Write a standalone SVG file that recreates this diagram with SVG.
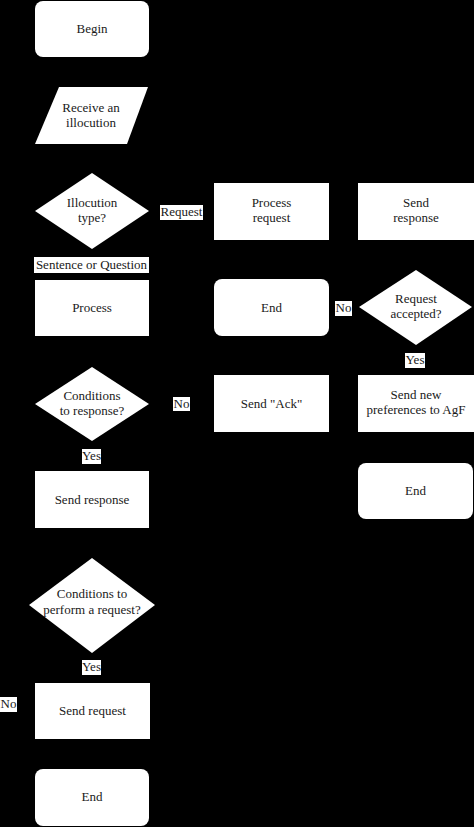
<svg xmlns="http://www.w3.org/2000/svg" width="474" height="827" viewBox="0 0 474 827">
<defs>
<style>
text{font-family:'Liberation Serif','Times New Roman','DejaVu Serif',serif;font-size:13px;fill:#1a1a1a;text-anchor:middle}
.n{fill:#fff;stroke:none}
.lb{fill:#fff}
.c{stroke:#000;stroke-width:1;fill:none;marker-end:url(#ah)}
</style>
<marker id="ah" markerWidth="8" markerHeight="8" refX="7" refY="4" orient="auto"><path d="M0,0 L8,4 L0,8 z" fill="#000"/></marker>
</defs>
<rect x="0" y="0" width="474" height="827" fill="#000"/>
<g id="connectors">
<path class="c" d="M92,57 V87"/>
<path class="c" d="M92,144 V173"/>
<path class="c" d="M92,249 V280"/>
<path class="c" d="M149,211 H214"/>
<path class="c" d="M329,211 H358"/>
<path class="c" d="M416,240 V270"/>
<path class="c" d="M359,307 H329"/>
<path class="c" d="M416,345 V375"/>
<path class="c" d="M416,432 V463"/>
<path class="c" d="M92,336 V367"/>
<path class="c" d="M149,404 H214"/>
<path class="c" d="M92,441 V471"/>
<path class="c" d="M92,528 V558"/>
<path class="c" d="M92,653 V683"/>
<path class="c" d="M92,739 V769"/>
<path class="c" d="M29,605 H8 V797 H35"/>
</g>
<g id="begin"><rect class="n" x="35" y="1" width="114" height="56" rx="8"/><text x="92" y="33" font-family="Liberation Serif, serif">Begin</text></g>
<g id="receive"><polygon class="n" points="59,87 148,87 127,144 35,144"/><text x="91" y="112">Receive an</text><text x="91" y="127">illocution</text></g>
<g id="illocution-type"><polygon class="n" points="92,173 149,211 92,249 35,211"/><text x="92" y="207">Illocution</text><text x="92" y="222">type?</text></g>
<g id="label-request"><rect class="lb" x="160" y="205" width="43" height="15"/><text x="181.5" y="216">Request</text></g>
<g id="label-sentence"><rect class="lb" x="34" y="257" width="115" height="16"/><text x="91.5" y="269">Sentence or Question</text></g>
<g id="process"><rect class="n" x="35" y="280" width="114" height="56"/><text x="92" y="312">Process</text></g>
<g id="process-request"><rect class="n" x="214" y="183" width="115" height="57"/><text x="271.5" y="207">Process</text><text x="271.5" y="222">request</text></g>
<g id="send-response-right"><rect class="n" x="358" y="183" width="116" height="57"/><text x="416" y="207">Send</text><text x="416" y="222">response</text></g>
<g id="end-middle"><rect class="n" x="214" y="279" width="115" height="57" rx="8"/><text x="271.5" y="312">End</text></g>
<g id="label-no-1"><rect class="lb" x="335" y="301" width="17" height="15"/><text x="343.5" y="312">No</text></g>
<g id="request-accepted"><polygon class="n" points="416,270 472,307 416,345 359,307"/><text x="416" y="303">Request</text><text x="416" y="318">accepted?</text></g>
<g id="label-yes-1"><rect class="lb" x="405" y="353" width="20" height="15"/><text x="415" y="364">Yes</text></g>
<g id="send-ack"><rect class="n" x="214" y="375" width="115" height="57"/><text x="271.5" y="408">Send "Ack"</text></g>
<g id="label-no-2"><rect class="lb" x="173" y="397" width="17" height="14"/><text x="181.5" y="408">No</text></g>
<g id="send-new-prefs"><rect class="n" x="358" y="375" width="116" height="57"/><text x="416" y="399">Send new</text><text x="416" y="414">preferences to AgF</text></g>
<g id="end-right"><rect class="n" x="358" y="463" width="115" height="56" rx="8"/><text x="415.5" y="495">End</text></g>
<g id="conditions-response"><polygon class="n" points="92,367 149,404 92,441 35,404"/><text x="92" y="400">Conditions</text><text x="92" y="415">to response?</text></g>
<g id="label-yes-2"><rect class="lb" x="82" y="449" width="19" height="15"/><text x="91.5" y="460">Yes</text></g>
<g id="send-response"><rect class="n" x="35" y="471" width="114" height="57"/><text x="92" y="504">Send response</text></g>
<g id="conditions-request"><polygon class="n" points="92,558 155,605 92,653 29,605"/><text x="92" y="598">Conditions to</text><text x="92" y="614">perform a request?</text></g>
<g id="label-yes-3"><rect class="lb" x="82" y="660" width="19" height="15"/><text x="91.5" y="671">Yes</text></g>
<g id="label-no-3"><rect class="lb" x="0" y="697" width="17" height="15"/><text x="8.5" y="708">No</text></g>
<g id="send-request"><rect class="n" x="35" y="683" width="115" height="56"/><text x="92.5" y="715">Send request</text></g>
<g id="end-bottom"><rect class="n" x="35" y="769" width="114" height="57" rx="8"/><text x="92" y="801">End</text></g>
</svg>
